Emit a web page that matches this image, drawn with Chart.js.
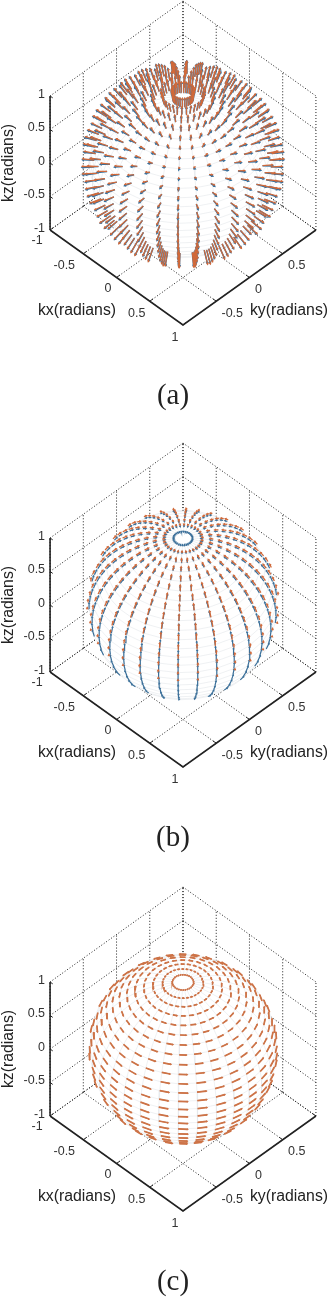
<!DOCTYPE html>
<html>
<head>
<meta charset="utf-8">
<title>k-space vectors</title>
<script src="https://cdn.jsdelivr.net/npm/chart.js@4/dist/chart.umd.min.js"></script>
<style>
html, body { margin: 0; padding: 0; background: #fff; width: 330px; height: 1298px; overflow: hidden; }
canvas { position: absolute; left: 0; filter: blur(0.35px); }
</style>
</head>
<body>
<canvas id="panelA" width="330" height="442" style="top:0"></canvas>
<canvas id="panelB" width="330" height="444" style="top:442px"></canvas>
<canvas id="panelC" width="330" height="412" style="top:886px"></canvas>
<script>
var captions = ['(a)', '(b)', '(c)'];
var tickValues = [-1, -0.5, 0, 0.5, 1];
var tickLabels = ['-1', '-0.5', '0', '0.5', '1'];

// sphere grid, degrees
var polarRings = [6.5, 12.5, 18.5, 24.5, 30.5, 36.5, 42.5, 48.5, 54.5, 60.5, 66.5, 72.5, 78.5, 84.5, 90.5, 96.5, 102.5, 108.5, 114.5, 120.5, 126.5, 132.5, 138.5];
var azimuths = [0, 12, 24, 36, 48, 60, 72, 84, 96, 108, 120, 132, 144, 156, 168, 180, -168, -156, -144, -132, -120, -108, -96, -84, -72, -60, -48, -36, -24, -12];

// arrow lengths per ring, panel (a) radial
var aBlue = [0.13, 0.13, 0.13, 0.13, 0.13, 0.12, 0.12, 0.12, 0.12, 0.12, 0.12, 0.12, 0.12, 0.12, 0.12, 0.12, 0.12, 0.12, 0.13, 0.13, 0.13, 0.14, 0.14];
var aOrange = [0.14, 0.14, 0.14, 0.13, 0.13, 0.12, 0.12, 0.12, 0.12, 0.12, 0.12, 0.12, 0.12, 0.12, 0.12, 0.12, 0.12, 0.12, 0.13, 0.13, 0.14, 0.15, 0.15];
var aOrangeTilt = [0, 0, -0.01, -0.015, -0.015, -0.015, -0.015, -0.015, -0.015, -0.015, -0.015, -0.015, -0.015, -0.015, -0.015, -0.015, -0.015, -0.01, -0.01, -0.01, 0, 0, 0];
// panel (b) along the meridians, towards the pole
var bBlue = [-0.015, -0.025, -0.03, -0.035, -0.04, -0.045, -0.05, -0.055, -0.06, -0.065, -0.07, -0.075, -0.08, -0.085, -0.09, -0.09, -0.095, -0.1, -0.1, -0.1, -0.1, -0.1, -0.1];
var bOrange = [0, -0.02, -0.035, -0.045, -0.05, -0.055, -0.06, -0.065, -0.065, -0.065, -0.06, -0.05, -0.04, -0.03, -0.02, -0.01, 0, 0, 0, 0, 0, 0, 0];
// panel (c) around the rings
var cBlue = [0.012, 0.022, 0.035, 0.045, 0.055, 0.065, 0.07, 0.075, 0.085, 0.09, 0.095, 0.1, 0.1, 0.1, 0.1, 0.1, 0.1, 0.1, 0.095, 0.09, 0.085, 0.08, 0.08];
var cOrange = [0.012, 0.022, 0.035, 0.045, 0.055, 0.065, 0.07, 0.075, 0.085, 0.09, 0.095, 0.1, 0.1, 0.1, 0.1, 0.1, 0.1, 0.1, 0.095, 0.09, 0.085, 0.08, 0.08];

var BLUE = '#33709f';
var ORANGE = '#d0693a';
var ORANGE_SOFT = '#cd7347';
var R_PX = 94, CX = 183, CY = 163;
var viewX = 0.7071, viewY = 0.505, viewZ = 0.713;

function rad(d) { return d * Math.PI / 180; }

function project(k) {
    return { x: (k[0] + k[1]) * viewX, y: k[2] * viewZ - (k[0] - k[1]) * viewY };
}

function onSphere(theta, alpha, r) {
    var t = rad(theta), a = rad(alpha);
    return [r * Math.sin(t) * Math.cos(a), r * Math.sin(t) * Math.sin(a), r * Math.cos(t)];
}

function facing(k) {
    return k[0] * viewY - k[1] * viewY + k[2] * viewZ;
}

function lineSet(segments, color, width, dash) {
    var data = [];
    segments.forEach(function (seg) {
        seg.forEach(function (k) { data.push(project(k)); });
        data.push({ x: NaN, y: NaN });
    });
    return {
        data: data, showLine: true, borderColor: color, borderWidth: width,
        borderDash: dash || [], pointRadius: 0, fill: false, spanGaps: false
    };
}

function gridSegments() {
    var segs = [];
    tickValues.forEach(function (v) {
        segs.push([[v, -1, -1], [v, 1, -1]]);
        segs.push([[-1, v, -1], [1, v, -1]]);
        segs.push([[-1, v, -1], [-1, v, 1]]);
        segs.push([[-1, -1, v], [-1, 1, v]]);
        segs.push([[v, 1, -1], [v, 1, 1]]);
        segs.push([[-1, 1, v], [1, 1, v]]);
    });
    return segs;
}

function meshSegments() {
    var segs = [];
    polarRings.forEach(function (theta) {
        var run = [];
        azimuths.concat(azimuths[0]).forEach(function (alpha) {
            var k = onSphere(theta, alpha, 1);
            if (facing(k) > -0.03) {
                run.push(k);
            } else if (run.length) {
                segs.push(run);
                run = [];
            }
        });
        if (run.length) segs.push(run);
    });
    azimuths.forEach(function (alpha) {
        var run = [];
        polarRings.forEach(function (theta) {
            var k = onSphere(theta, alpha, 1);
            if (facing(k) > -0.03) run.push(k);
        });
        if (run.length) segs.push(run);
    });
    return segs;
}

function axisTicks() {
    var segs = [];
    tickValues.forEach(function (v) {
        segs.push([[-1, -1, v], [-0.96, -1, v]]);
        segs.push([[v, -1, -1], [v, -0.95, -1]]);
        segs.push([[1, v, -1], [0.95, v, -1]]);
    });
    return segs;
}

// one series of arrows: shafts plus triangle heads
function arrowSets(radial, polar, around, base, color, limit, width, headSize) {
    var segs = [], heads = [], turns = [];
    polarRings.forEach(function (theta, i) {
        azimuths.forEach(function (alpha) {
            var t = rad(theta), a = rad(alpha);
            var p = onSphere(theta, alpha, base);
            if (facing(p) < limit) return;
            var pr = radial ? radial[i] : 0, pt = polar ? polar[i] : 0, pa = around ? around[i] : 0;
            if (!pr && !pt && !pa) return;
            var v = [
                pr * Math.sin(t) * Math.cos(a) + pt * Math.cos(t) * Math.cos(a) - pa * Math.sin(a),
                pr * Math.sin(t) * Math.sin(a) + pt * Math.cos(t) * Math.sin(a) + pa * Math.cos(a),
                pr * Math.cos(t) - pt * Math.sin(t)
            ];
            var q = [p[0] + v[0], p[1] + v[1], p[2] + v[2]];
            segs.push([p, q]);
            var s = project(p), e = project(q);
            heads.push(e);
            turns.push(Math.atan2(e.x - s.x, e.y - s.y) * 180 / Math.PI);
        });
    });
    var shaft = lineSet(segs, color, width);
    var head = {
        data: heads, pointStyle: 'triangle', pointRotation: turns, pointRadius: headSize,
        pointBackgroundColor: color, pointBorderWidth: 0, showLine: false
    };
    return [shaft, head];
}

function poleCap() {
    var ring = azimuths.concat(azimuths[0]).map(function (alpha) {
        return project(onSphere(polarRings[0], alpha, 1));
    });
    return {
        data: ring, showLine: true, fill: true, backgroundColor: '#e9ebee',
        borderColor: '#d8dadd', borderWidth: 0.5, pointRadius: 0
    };
}

var labelPlugin = {
    id: 'labels',
    afterDatasetsDraw: function (chart) {
        var ctx = chart.ctx, sx = chart.scales.x, sy = chart.scales.y;
        function put(text, k, dx, dy, align) {
            var p = project(k);
            ctx.textAlign = align || 'center';
            ctx.fillText(text, sx.getPixelForValue(p.x) + dx, sy.getPixelForValue(p.y) + dy);
        }
        ctx.save();
        ctx.textBaseline = 'middle';
        ctx.fillStyle = '#333';
        ctx.font = '12.5px "Liberation Sans"';
        var kxOff = [[-13, 11], [-19, 12], [-8.5, 11], [-13, 12], [-8, 13]];
        var kyOff = [null, [16, 12], [9, 12], [14, 12], null];
        tickValues.forEach(function (v, i) {
            put(tickLabels[i], [-1, -1, v], -5, -1.5, 'right');
            put(tickLabels[i], [v, -1, -1], kxOff[i][0], kxOff[i][1]);
            if (kyOff[i]) put(tickLabels[i], [1, v, -1], kyOff[i][0], kyOff[i][1]);
        });
        ctx.fillStyle = '#222';
        ctx.font = '15.8px "Liberation Sans"';
        ctx.textAlign = 'center';
        ctx.fillText('kx(radians)', 77, 311);
        ctx.fillText('ky(radians)', 289, 311);
        ctx.save();
        ctx.translate(9, 163);
        ctx.rotate(-Math.PI / 2);
        ctx.fillText('kz(radians)', 0, 0);
        ctx.restore();
        ctx.fillStyle = '#222';
        ctx.font = '29px "Liberation Serif"';
        ctx.fillText(chart.options.plugins.caption, 173, 396);
        ctx.restore();
    }
};

function drawPanel(id, caption, height, seriesSets, cap) {
    var sets = [];
    sets.push(lineSet(gridSegments(), '#1c1c1c', 1, [1, 2]));
    sets.push({ data: [{ x: 0, y: 0 }], pointRadius: R_PX, pointBackgroundColor: '#fff', pointBorderWidth: 0, showLine: false });
    if (cap) sets.push(poleCap());
    sets.push(lineSet(meshSegments(), '#e4e7eb', 0.6));
    seriesSets.forEach(function (s) { sets.push(s); });
    sets.push(lineSet([[[-1, -1, -1], [-1, -1, 1]], [[-1, -1, -1], [1, -1, -1], [1, 1, -1]]], '#222', 1.6));
    sets.push(lineSet(axisTicks(), '#222', 1));
    // chart.js paints lower order on top
    sets.forEach(function (s, i) { s.order = -i; });

    new Chart(document.getElementById(id).getContext('2d'), {
        type: 'scatter',
        data: { datasets: sets },
        options: {
            responsive: false,
            animation: false,
            devicePixelRatio: 1,
            layout: { padding: 0, autoPadding: false },
            plugins: { legend: { display: false }, tooltip: { enabled: false }, caption: caption },
            scales: {
                x: { display: false, min: -CX / R_PX, max: (330 - CX) / R_PX },
                y: { display: false, min: (CY - height) / R_PX, max: CY / R_PX }
            }
        },
        plugins: [labelPlugin]
    });
}

drawPanel('panelA', captions[0], 442,
    arrowSets(aBlue, null, null, 0.95, BLUE, -0.1, 1.5, 1.9).concat(arrowSets(aOrange, aOrangeTilt, null, 0.95, ORANGE, -0.1, 1.2, 1.6)), false);
drawPanel('panelB', captions[1], 444,
    arrowSets(null, bBlue, null, 1, '#3a6f99', 0, 1.2, 1.5).concat(arrowSets(null, bOrange, null, 1.02, ORANGE, 0, 1.3, 1.7)), true);
drawPanel('panelC', captions[2], 412,
    arrowSets(null, null, cBlue, 1, ORANGE_SOFT, 0, 1, 0.8).concat(arrowSets(null, null, cOrange, 1, ORANGE_SOFT, 0, 1.7, 1.3)), true);
</script>
</body>
</html>
